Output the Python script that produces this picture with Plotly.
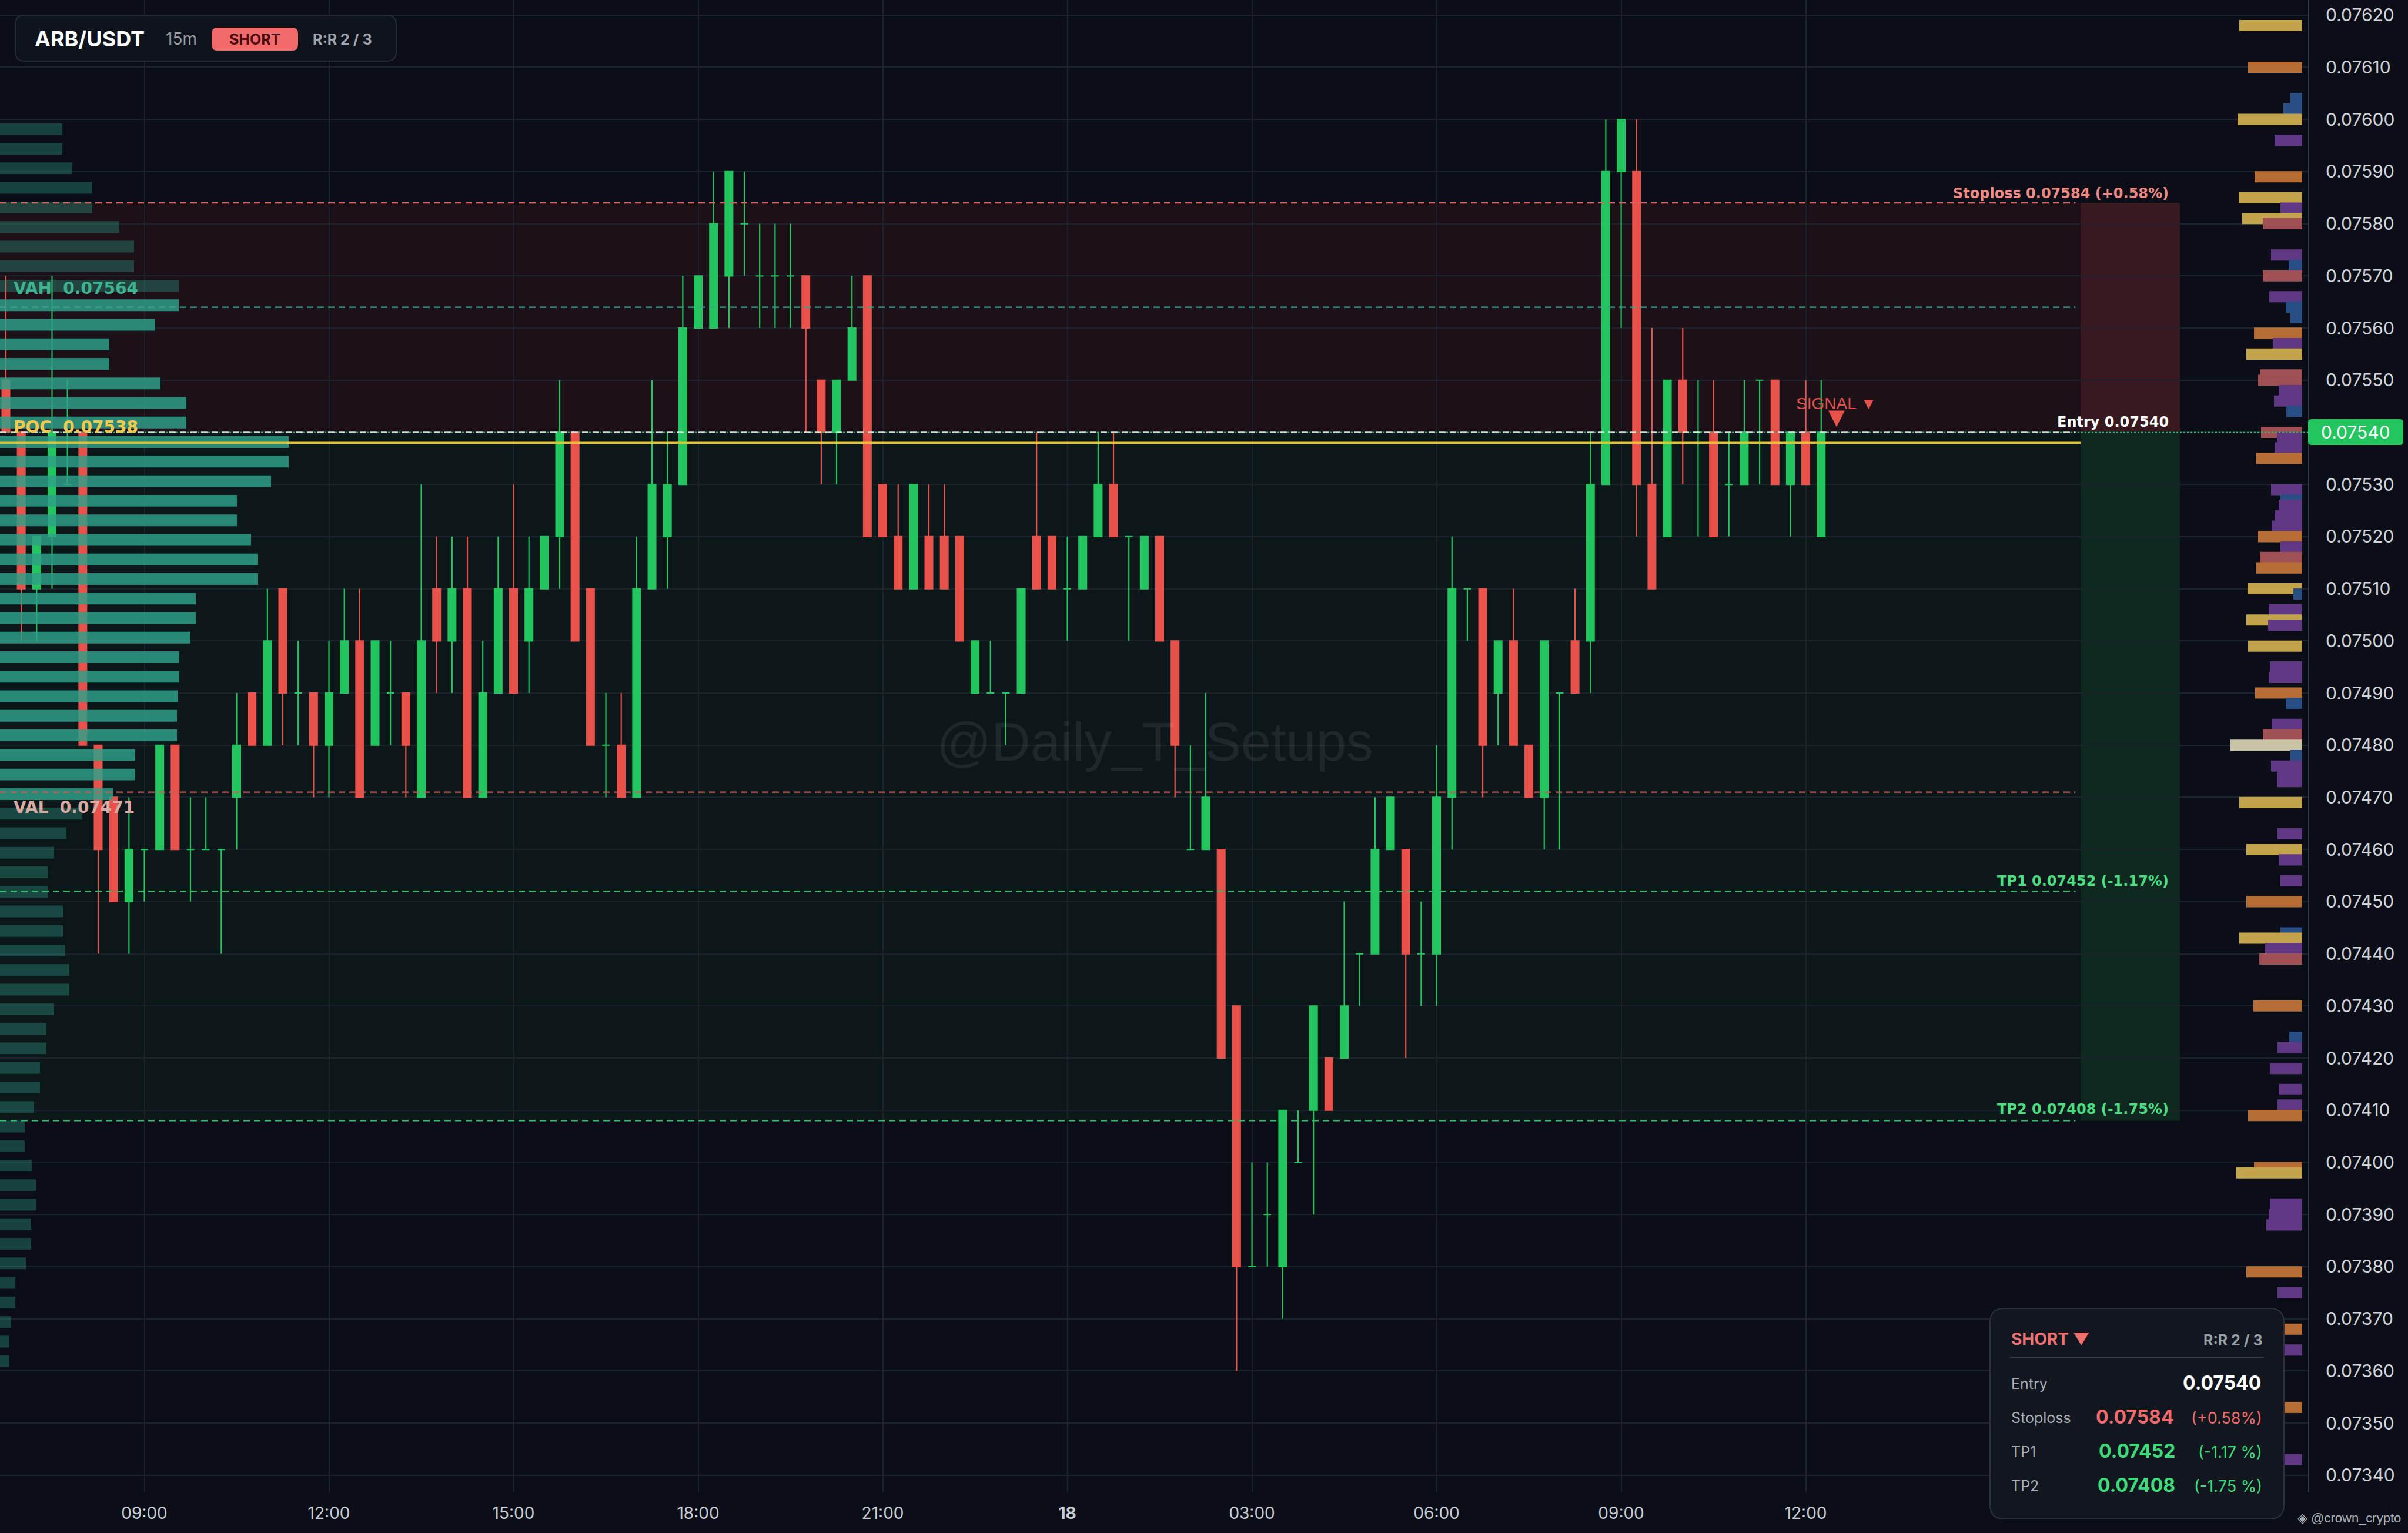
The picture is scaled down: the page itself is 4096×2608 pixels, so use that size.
import pandas as pd
import plotly.graph_objects as go

# ---------------- data ----------------
first_candle = "2024-03-17 06:45"

opens = [
    0.07550, 0.07540, 0.07510, 0.07520, 0.07530, 0.07540, 0.07480, 0.07470, 0.07450, 0.07460,
    0.07460, 0.07480, 0.07460, 0.07460, 0.07460, 0.07470, 0.07490, 0.07480, 0.07510, 0.07490,
    0.07490, 0.07480, 0.07490, 0.07500, 0.07480, 0.07490, 0.07490, 0.07470, 0.07510, 0.07500,
    0.07510, 0.07470, 0.07490, 0.07510, 0.07500, 0.07510, 0.07520, 0.07540, 0.07510, 0.07480,
    0.07480, 0.07470, 0.07510, 0.07520, 0.07530, 0.07560, 0.07560, 0.07570, 0.07580, 0.07570,
    0.07570, 0.07570, 0.07570, 0.07550, 0.07540, 0.07550, 0.07570, 0.07530, 0.07520, 0.07510,
    0.07520, 0.07520, 0.07520, 0.07490, 0.07490, 0.07490, 0.07490, 0.07520, 0.07520, 0.07510,
    0.07510, 0.07520, 0.07530, 0.07520, 0.07510, 0.07520, 0.07500, 0.07460, 0.07460, 0.07460,
    0.07430, 0.07380, 0.07390, 0.07380, 0.07400, 0.07410, 0.07420, 0.07420, 0.07440, 0.07440,
    0.07460, 0.07460, 0.07440, 0.07440, 0.07470, 0.07510, 0.07510, 0.07490, 0.07500, 0.07480,
    0.07470, 0.07490, 0.07500, 0.07500, 0.07530, 0.07590, 0.07590, 0.07530, 0.07520, 0.07550,
    0.07540, 0.07540, 0.07530, 0.07530, 0.07550, 0.07550, 0.07530, 0.07540, 0.07520,
]
highs = [
    0.07570, 0.07540, 0.07520, 0.07570, 0.07550, 0.07540, 0.07480, 0.07470, 0.07470, 0.07460,
    0.07480, 0.07480, 0.07470, 0.07470, 0.07460, 0.07490, 0.07490, 0.07510, 0.07510, 0.07500,
    0.07490, 0.07500, 0.07510, 0.07510, 0.07500, 0.07500, 0.07490, 0.07530, 0.07520, 0.07520,
    0.07520, 0.07500, 0.07520, 0.07530, 0.07520, 0.07520, 0.07550, 0.07540, 0.07510, 0.07490,
    0.07490, 0.07520, 0.07550, 0.07540, 0.07570, 0.07570, 0.07590, 0.07590, 0.07590, 0.07580,
    0.07580, 0.07580, 0.07570, 0.07550, 0.07550, 0.07570, 0.07570, 0.07530, 0.07530, 0.07530,
    0.07530, 0.07530, 0.07520, 0.07500, 0.07500, 0.07490, 0.07510, 0.07540, 0.07520, 0.07520,
    0.07520, 0.07540, 0.07540, 0.07520, 0.07520, 0.07520, 0.07500, 0.07480, 0.07490, 0.07460,
    0.07430, 0.07400, 0.07400, 0.07410, 0.07410, 0.07430, 0.07420, 0.07450, 0.07440, 0.07470,
    0.07470, 0.07460, 0.07450, 0.07480, 0.07520, 0.07510, 0.07510, 0.07500, 0.07510, 0.07480,
    0.07500, 0.07490, 0.07510, 0.07540, 0.07600, 0.07600, 0.07600, 0.07560, 0.07550, 0.07560,
    0.07550, 0.07550, 0.07540, 0.07550, 0.07550, 0.07550, 0.07540, 0.07550, 0.07550,
]
lows = [
    0.07540, 0.07500, 0.07500, 0.07510, 0.07530, 0.07480, 0.07440, 0.07450, 0.07440, 0.07450,
    0.07460, 0.07460, 0.07450, 0.07460, 0.07440, 0.07460, 0.07480, 0.07480, 0.07480, 0.07480,
    0.07470, 0.07470, 0.07490, 0.07470, 0.07480, 0.07480, 0.07470, 0.07470, 0.07490, 0.07490,
    0.07470, 0.07470, 0.07490, 0.07490, 0.07490, 0.07510, 0.07510, 0.07500, 0.07480, 0.07470,
    0.07470, 0.07470, 0.07510, 0.07510, 0.07530, 0.07560, 0.07560, 0.07560, 0.07570, 0.07560,
    0.07560, 0.07560, 0.07540, 0.07530, 0.07530, 0.07550, 0.07520, 0.07520, 0.07510, 0.07510,
    0.07510, 0.07510, 0.07500, 0.07490, 0.07490, 0.07480, 0.07490, 0.07510, 0.07510, 0.07500,
    0.07510, 0.07520, 0.07520, 0.07500, 0.07510, 0.07500, 0.07470, 0.07460, 0.07460, 0.07420,
    0.07360, 0.07380, 0.07380, 0.07370, 0.07400, 0.07390, 0.07410, 0.07420, 0.07430, 0.07440,
    0.07460, 0.07420, 0.07430, 0.07430, 0.07460, 0.07500, 0.07470, 0.07480, 0.07480, 0.07470,
    0.07460, 0.07460, 0.07490, 0.07490, 0.07530, 0.07560, 0.07520, 0.07510, 0.07520, 0.07530,
    0.07520, 0.07520, 0.07520, 0.07530, 0.07530, 0.07530, 0.07520, 0.07530, 0.07520,
]
closes = [
    0.07540, 0.07510, 0.07520, 0.07540, 0.07530, 0.07480, 0.07460, 0.07450, 0.07460, 0.07460,
    0.07480, 0.07460, 0.07460, 0.07460, 0.07460, 0.07480, 0.07480, 0.07500, 0.07490, 0.07490,
    0.07480, 0.07490, 0.07500, 0.07470, 0.07500, 0.07490, 0.07480, 0.07500, 0.07500, 0.07510,
    0.07470, 0.07490, 0.07510, 0.07490, 0.07510, 0.07520, 0.07540, 0.07500, 0.07480, 0.07480,
    0.07470, 0.07510, 0.07530, 0.07530, 0.07560, 0.07570, 0.07580, 0.07590, 0.07580, 0.07570,
    0.07570, 0.07570, 0.07560, 0.07540, 0.07550, 0.07560, 0.07520, 0.07520, 0.07510, 0.07530,
    0.07510, 0.07510, 0.07500, 0.07500, 0.07490, 0.07490, 0.07510, 0.07510, 0.07510, 0.07510,
    0.07520, 0.07530, 0.07520, 0.07520, 0.07520, 0.07500, 0.07480, 0.07460, 0.07470, 0.07420,
    0.07380, 0.07380, 0.07390, 0.07410, 0.07400, 0.07430, 0.07410, 0.07430, 0.07440, 0.07460,
    0.07470, 0.07440, 0.07440, 0.07470, 0.07510, 0.07510, 0.07480, 0.07500, 0.07480, 0.07470,
    0.07500, 0.07490, 0.07490, 0.07530, 0.07590, 0.07600, 0.07530, 0.07510, 0.07550, 0.07540,
    0.07540, 0.07520, 0.07530, 0.07540, 0.07550, 0.07530, 0.07540, 0.07530, 0.07540,
]

# trade levels
entry = 0.07540
stoploss = 0.07584
tp1 = 0.07452
tp2 = 0.07408
poc = 0.07538
vah = 0.07564
val = 0.07471

# volume profile (64 bins, top -> bottom)
vp_low, vp_high = 0.07360, 0.07600
vp_volume = [
    106, 106, 123, 157, 157, 203, 228, 228, 304, 304,
    264, 186, 186, 273, 317, 317, 491, 491, 461, 403,
    403, 427, 439, 439, 333, 333, 324, 305, 305, 303,
    301, 301, 230, 230, 192, 140, 113, 92, 81, 81,
    107, 107, 111, 118, 118, 92, 79, 79, 68, 68,
    58, 42, 42, 54, 61, 61, 53, 53, 44, 26,
    26, 19, 16, 16,
]

# order-book heat bars on the right edge
heat_price = [0.07618, 0.07610, 0.07604, 0.07602, 0.07600, 0.07596, 0.07589, 0.07585, 0.07583, 0.07581,
              0.07580, 0.07574, 0.07572, 0.07570, 0.07566, 0.07564, 0.07562, 0.07559, 0.07557, 0.07555,
              0.07551, 0.07550, 0.07548, 0.07546, 0.07544, 0.07540, 0.07539, 0.07537, 0.07535, 0.07529,
              0.07527, 0.07526, 0.07524, 0.07522, 0.07520, 0.07518, 0.07516, 0.07514, 0.07510, 0.07509,
              0.07506, 0.07504, 0.07503, 0.07499, 0.07495, 0.07493, 0.07490, 0.07488, 0.07484, 0.07482,
              0.07480, 0.07478, 0.07476, 0.07475, 0.07473, 0.07469, 0.07463, 0.07460, 0.07458, 0.07454,
              0.07450, 0.07444, 0.07443, 0.07441, 0.07439, 0.07430, 0.07424, 0.07422, 0.07418, 0.07414,
              0.07411, 0.07409, 0.07399, 0.07398, 0.07392, 0.07390, 0.07388, 0.07379, 0.07375, 0.07368,
              0.07364, 0.07353, 0.07343]
heat_size = [107, 92, 20, 32, 110, 47, 81, 108, 37, 102,
             67, 53, 23, 67, 56, 28, 20, 82, 50, 95,
             72, 75, 40, 48, 27, 70, 43, 47, 78, 53,
             37, 40, 47, 52, 75, 37, 72, 78, 93, 15,
             57, 95, 58, 92, 55, 57, 80, 28, 52, 67,
             122, 20, 53, 43, 43, 107, 42, 95, 40, 37,
             95, 37, 107, 63, 73, 83, 22, 42, 55, 40,
             42, 92, 82, 112, 55, 57, 61, 95, 42, 30,
             30, 30, 30]
heat_kind = ["y", "o", "b", "b", "y", "p", "o", "y", "p", "y",
             "k", "p", "b", "k", "p", "b", "b", "o", "p", "y",
             "k", "k", "p", "p", "b", "k", "p", "p", "o", "p",
             "b", "p", "p", "p", "o", "p", "k", "o", "y", "b",
             "p", "y", "p", "y", "p", "p", "o", "b", "p", "k",
             "w", "b", "p", "p", "p", "y", "p", "y", "p", "p",
             "o", "b", "y", "p", "k", "o", "b", "p", "p", "p",
             "p", "o", "o", "y", "p", "p", "p", "o", "p", "o",
             "p", "o", "p"]
heat_palette = {"y": "#d8b552", "o": "#c9793a", "p": "#6b3d8f", "b": "#2c5593",
                "k": "#b0585c", "w": "#ddd7b5"}

tick_times = ["2024-03-17 09:00", "2024-03-17 12:00", "2024-03-17 15:00", "2024-03-17 18:00",
              "2024-03-17 21:00", "2024-03-18 00:00", "2024-03-18 03:00", "2024-03-18 06:00",
              "2024-03-18 09:00", "2024-03-18 12:00"]
tick_labels = ["09:00", "12:00", "15:00", "18:00", "21:00", "<b>18</b>",
               "03:00", "06:00", "09:00", "12:00"]

x_start = "2024-03-17 06:39:16"
x_end = "2024-03-18 20:09:47"
line_end = "2024-03-18 16:23"
zone_start = "2024-03-18 16:28"
zone_end = "2024-03-18 18:05"
label_right = "2024-03-18 17:55"

# ---------------- styling / geometry ----------------
W, H = 4096, 2608
ML, MR, MT, MB = 0, 170, 0, 69
PW, PH = W - ML - MR, H - MT - MB

BG = "#0b0e16"
GREEN = "#22c55e"
RED = "#e8524a"
GRID = "#1c212b"


def px(x):
    return (x - ML) / PW


def py(y):
    return 1 - (y - MT) / PH


def rrect(x0, y0, x1, y1, r):
    X0, X1, Y0, Y1 = px(x0), px(x1), py(y0), py(y1)
    rx, ry = r / PW, r / PH
    return (f"M{X0+rx},{Y0} L{X1-rx},{Y0} Q{X1},{Y0} {X1},{Y0-ry} "
            f"L{X1},{Y1+ry} Q{X1},{Y1} {X1-rx},{Y1} L{X0+rx},{Y1} "
            f"Q{X0},{Y1} {X0},{Y1+ry} L{X0},{Y0-ry} Q{X0},{Y0} {X0+rx},{Y0} Z")


times = pd.date_range(first_candle, periods=len(opens), freq="15min")
n = len(opens)
up = [i for i in range(n) if closes[i] >= opens[i]]
dn = [i for i in range(n) if closes[i] < opens[i]]

fig = go.Figure()

# volume profile on the left
bin_h = (vp_high - vp_low) / len(vp_volume)
vp_center = [vp_high - (i + 0.5) * bin_h for i in range(len(vp_volume))]
vp_color = []
for c in vp_center:
    inside = (c - bin_h / 2) < vah and (c + bin_h / 2) > val
    vp_color.append("rgba(46,160,136,0.84)" if inside else "rgba(46,160,136,0.36)")
fig.add_trace(go.Bar(
    y=vp_center, x=vp_volume, orientation="h", xaxis="x2", yaxis="y",
    width=bin_h * 0.6, marker=dict(color=vp_color, line=dict(width=0)),
    hoverinfo="skip",
))

# heat bars on the right
fig.add_trace(go.Bar(
    y=heat_price, x=heat_size, base=[10] * len(heat_size), orientation="h",
    xaxis="x3", yaxis="y", width=0.0000215,
    marker=dict(color=[heat_palette[k] for k in heat_kind], line=dict(width=0)),
    opacity=0.9, hoverinfo="skip",
))

for idx, col in ((up, GREEN), (dn, RED)):
    fig.add_trace(go.Candlestick(
        x=[times[i] for i in idx],
        open=[opens[i] for i in idx], high=[highs[i] for i in idx],
        low=[lows[i] for i in idx], close=[closes[i] for i in idx],
        increasing=dict(line=dict(color=col, width=2.2), fillcolor=col),
        decreasing=dict(line=dict(color=col, width=2.2), fillcolor=col),
        whiskerwidth=0, hoverinfo="skip",
    ))

shapes = []
# risk / reward zones
shapes.append(dict(type="rect", xref="x", yref="y", x0=x_start, x1=zone_start, y0=entry, y1=stoploss,
                   fillcolor="rgba(239,68,68,0.075)", line=dict(width=0), layer="below"))
shapes.append(dict(type="rect", xref="x", yref="y", x0=zone_start, x1=zone_end, y0=entry, y1=stoploss,
                   fillcolor="rgba(239,68,68,0.2)", line=dict(width=0), layer="below"))
shapes.append(dict(type="rect", xref="x", yref="y", x0=x_start, x1=zone_start, y0=tp2, y1=entry,
                   fillcolor="rgba(34,197,94,0.05)", line=dict(width=0), layer="below"))
shapes.append(dict(type="rect", xref="x", yref="y", x0=zone_start, x1=zone_end, y0=tp2, y1=entry,
                   fillcolor="rgba(34,197,94,0.14)", line=dict(width=0), layer="below"))

DASH = "11px,7px"
for lvl, col in ((stoploss, "#d9625f"), (vah, "#3aa58a"), (val, "#c0605a"),
                 (tp1, "#2fbf6a"), (tp2, "#2fbf6a")):
    shapes.append(dict(type="line", xref="x", yref="y", x0=x_start, x1=line_end, y0=lvl, y1=lvl,
                       line=dict(color=col, width=2.2, dash=DASH), layer="above"))
shapes.append(dict(type="line", xref="x", yref="y", x0=x_start, x1=x_end, y0=entry, y1=entry,
                   line=dict(color=GREEN, width=1.5, dash="dot"), layer="above"))
shapes.append(dict(type="line", xref="x", yref="y", x0=x_start, x1=line_end, y0=entry, y1=entry,
                   line=dict(color="rgba(235,235,235,0.85)", width=2.2, dash=DASH), layer="above"))
shapes.append(dict(type="line", xref="x", yref="y", x0=x_start, x1=zone_start, y0=poc, y1=poc,
                   line=dict(color="#e6c229", width=3.5), layer="above"))

# header box
shapes.append(dict(type="path", xref="paper", yref="paper", path=rrect(26, 26, 674, 104, 16),
                   fillcolor="#0f131c", line=dict(color="#262b36", width=2), layer="above"))
shapes.append(dict(type="path", xref="paper", yref="paper", path=rrect(360, 47, 507, 86, 10),
                   fillcolor="#f26b6b", line=dict(width=0), layer="above"))
# info panel
shapes.append(dict(type="path", xref="paper", yref="paper", path=rrect(3385, 2226, 3885, 2584, 24),
                   fillcolor="rgba(19,23,32,0.97)", line=dict(color="#2a303c", width=2), layer="above"))
shapes.append(dict(type="line", xref="paper", yref="paper", x0=px(3419), x1=px(3851),
                   y0=py(2309), y1=py(2309), line=dict(color="#343a46", width=2), layer="above"))
# price tag on the axis
shapes.append(dict(type="path", xref="paper", yref="paper", path=rrect(3926, 713, 4088, 757, 6),
                   fillcolor=GREEN, line=dict(width=0), layer="above"))

ann = []
LBL = "DejaVu Sans"


def level_label(text, y, color, shift):
    ann.append(dict(xref="x", yref="y", x=label_right, y=y, text=f"<b>{text}</b>", showarrow=False,
                    xanchor="right", yanchor="middle", yshift=shift,
                    font=dict(family=LBL, size=24, color=color)))


level_label(f"Stoploss {stoploss:.5f} (+0.58%)", stoploss, "#f08a85", 16)
level_label(f"Entry {entry:.5f}", entry, "#ffffff", 17)
level_label(f"TP1 {tp1:.5f} (-1.17%)", tp1, "#4ade80", 17)
level_label(f"TP2 {tp2:.5f} (-1.75%)", tp2, "#4ade80", 19)


def side_label(text, y, color, shift):
    ann.append(dict(xref="paper", yref="y", x=px(21), y=y, text=f"<b>{text}</b>", showarrow=False,
                    xanchor="left", yanchor="middle", yshift=shift,
                    font=dict(family=LBL, size=28, color=color)))


side_label(f"VAH\u00a0\u00a0{vah:.5f}", vah, "#3fb28f", 32)
side_label(f"POC\u00a0\u00a0{poc:.5f}", poc, "#f2c94c", 27)
side_label(f"VAL\u00a0\u00a0{val:.5f}", val, "#d8aaa3", -26)

# signal marker
signal_time = times[-1] + pd.Timedelta(minutes=15)
ann.append(dict(xref="x", yref="y", x=signal_time, y=entry, text="SIGNAL ▼", showarrow=False,
                yshift=49, font=dict(family="Liberation Sans", size=28, color="#e0524a")))
ann.append(dict(xref="x", yref="y", x=signal_time, y=entry, text="", showarrow=True,
                ax=0, ay=-32, standoff=9, arrowhead=2, arrowsize=0.8, arrowwidth=7,
                arrowcolor="#e8524a"))

# watermark
ann.append(dict(xref="paper", yref="paper", x=px(1964), y=py(1262), text="@Daily_T_Setups",
                showarrow=False, font=dict(family="Liberation Sans", size=92,
                                           color="rgba(255,255,255,0.075)")))


def ptext(text, x, y, size, color, anchor="left", family="Inter"):
    ann.append(dict(xref="paper", yref="paper", x=px(x), y=py(y), text=text, showarrow=False,
                    xanchor=anchor, yanchor="middle", font=dict(family=family, size=size, color=color)))


# header
ptext("<b>ARB/USDT</b>", 57, 66, 36, "#ffffff")
ptext("15m", 280, 66, 28, "#9aa0aa")
ptext("<b>SHORT</b>", 433, 67, 25, "#4a0c10", anchor="center")
ptext("<b>R:R 2 / 3</b>", 530, 67, 25, "#a0a6b0")

# info panel
ptext("<b>SHORT ▼</b>", 3419, 2278, 28, "#f07070")
ptext("<b>R:R 2 / 3</b>", 3851, 2280, 25, "#9aa0aa", anchor="right")
ptext("Entry", 3419, 2354, 25, "#a8adb7")
ptext(f"<b>{entry:.5f}</b>", 3848, 2352, 32, "#ffffff", anchor="right")
ptext("Stoploss", 3419, 2412, 25, "#a8adb7")
ptext(f"<b>{stoploss:.5f}</b>", 3700, 2410, 32, "#f06b6b", anchor="right")
ptext("(+0.58%)", 3850, 2412, 27, "#f06b6b", anchor="right")
ptext("TP1", 3419, 2470, 25, "#a8adb7")
ptext(f"<b>{tp1:.5f}</b>", 3702, 2468, 32, "#3ddc7a", anchor="right")
ptext("(-1.17 %)", 3850, 2470, 27, "#3ddc7a", anchor="right")
ptext("TP2", 3419, 2528, 25, "#a8adb7")
ptext(f"<b>{tp2:.5f}</b>", 3702, 2526, 32, "#3ddc7a", anchor="right")
ptext("(-1.75 %)", 3850, 2528, 27, "#3ddc7a", anchor="right")

# axis price tag and credit
ptext(f"{entry:.5f}", 4007, 735, 30, "#ffffff", anchor="center")
ptext("◈ @crown_crypto", 4086, 2582, 22, "#aab0b8", anchor="right", family="Liberation Sans")

fig.update_layout(
    width=W, height=H,
    margin=dict(l=ML, r=MR, t=MT, b=MB, pad=0),
    paper_bgcolor=BG, plot_bgcolor=BG,
    showlegend=False, hovermode=False,
    barmode="overlay", boxgap=0.3,
    shapes=shapes, annotations=ann,
    xaxis=dict(
        type="date", range=[x_start, x_end], rangeslider=dict(visible=False),
        tickvals=tick_times, ticktext=tick_labels, ticks="", ticklabelstandoff=16,
        tickfont=dict(family="Inter", size=28, color="#c8ccd4"),
        showgrid=True, gridcolor=GRID, gridwidth=2, zeroline=False, showline=False,
    ),
    xaxis2=dict(overlaying="x", range=[0, PW], visible=False, anchor="y"),
    xaxis3=dict(overlaying="x", range=[PW, 0], visible=False, anchor="y"),
    yaxis=dict(
        side="right", range=[0.073367, 0.076229], dtick=0.0001, tick0=0.0734,
        tickformat=".5f", ticks="", ticklabelstandoff=22,
        tickfont=dict(family="Inter", size=30, color="#d1d4dc"),
        showgrid=True, gridcolor=GRID, gridwidth=2, zeroline=False,
        showline=True, linecolor="#363a45", linewidth=2,
    ),
)

# drop the browser's default body margin so the figure sits flush in the window
fig.write_html("out.html", config={"displayModeBar": False},
               post_script="document.body.style.margin='0';"
                           "document.body.style.background='#0b0e16';")
